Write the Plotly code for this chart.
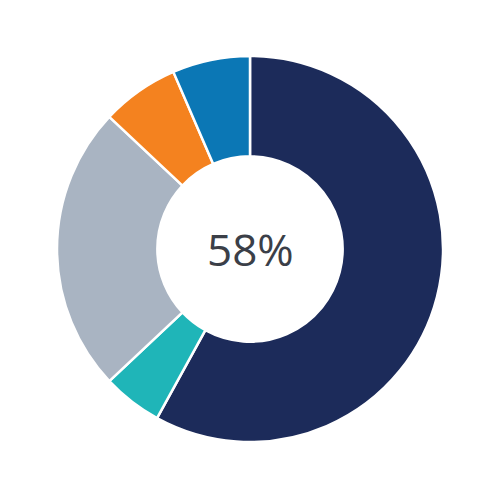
import plotly.graph_objects as go

labels = ["A", "B", "C", "D", "E"]
values = [58, 5, 24, 6.5, 6.5]
colors = ["#1c2b5a", "#1fb5b8", "#a9b4c2", "#f4821f", "#0b77b5"]
center_text = "58%"

fig = go.Figure(go.Pie(
    labels=labels, values=values, hole=0.48, sort=False, direction="clockwise",
    rotation=0, textinfo="none", hoverinfo="label+percent",
    marker=dict(colors=colors, line=dict(color="white", width=2.5)),
))
fig.add_annotation(text=center_text, x=0.5, y=0.5, xref="paper", yref="paper", showarrow=False,
                   font=dict(size=44, color="#3b3f48", family="Open Sans"))
fig.update_layout(width=500, height=500, showlegend=False,
                  margin=dict(l=49, r=65, t=48, b=66),
                  paper_bgcolor="white")
fig.write_html("out.html")
